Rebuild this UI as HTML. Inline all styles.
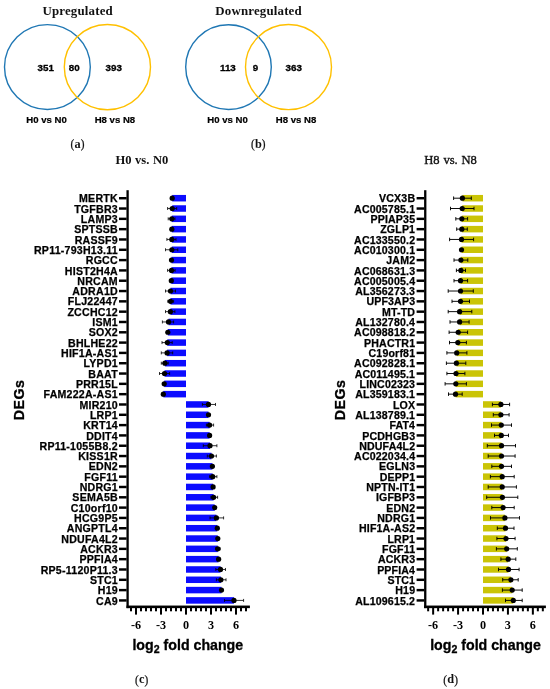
<!DOCTYPE html>
<html lang="en"><head><meta charset="utf-8"><title>Figure</title>
<style>html,body{margin:0;padding:0;background:#fff}body{width:550px;height:689px;overflow:hidden}svg{display:block}</style></head>
<body>
<svg width="550" height="689" viewBox="0 0 550 689">
<style>
text{font-family:"Liberation Sans",sans-serif;fill:#000}
.lab{font-size:10.6px;font-weight:bold;stroke:#000;stroke-width:0.25px}
.tk{font-family:"Liberation Serif",serif;font-size:12.2px;font-weight:bold}
.ttl{font-family:"Liberation Serif",serif;font-size:12.9px;font-weight:bold;fill:#111;letter-spacing:0.17px}
.num{font-size:9.8px;font-weight:bold;stroke:#000;stroke-width:0.3px}
.vl{font-size:9.6px;font-weight:bold;stroke:#000;stroke-width:0.2px}
.cap{font-family:"Liberation Serif",serif;font-size:11.3px;fill:#111}
.sub{font-family:"Liberation Serif",serif;font-size:12.8px;fill:#111}
.ax{font-size:14.2px;font-weight:bold;stroke:#000;stroke-width:0.3px}
</style>
<rect width="550" height="689" fill="#fff"/>
<ellipse cx="47.4" cy="67.1" rx="42.9" ry="42.45" fill="none" stroke="#1f77b4" stroke-width="1.4"/>
<ellipse cx="107.4" cy="67.1" rx="43.1" ry="42.65" fill="none" stroke="#ffc000" stroke-width="1.4"/>
<ellipse cx="228.5" cy="67.1" rx="42.8" ry="42.35" fill="none" stroke="#1f77b4" stroke-width="1.4"/>
<ellipse cx="288.5" cy="67.1" rx="43.0" ry="42.55" fill="none" stroke="#ffc000" stroke-width="1.4"/>
<text x="77.7" y="15.4" text-anchor="middle" class="ttl">Upregulated</text>
<text x="258.6" y="15.4" text-anchor="middle" class="ttl">Downregulated</text>
<text x="45.8" y="71.4" text-anchor="middle" class="num">351</text>
<text x="74.2" y="71.4" text-anchor="middle" class="num">80</text>
<text x="113.7" y="71.4" text-anchor="middle" class="num">393</text>
<text x="227.9" y="71.4" text-anchor="middle" class="num">113</text>
<text x="255.6" y="71.4" text-anchor="middle" class="num">9</text>
<text x="293.7" y="71.4" text-anchor="middle" class="num">363</text>
<text x="46.5" y="123.4" text-anchor="middle" class="vl">H0 vs N0</text>
<text x="114.9" y="123.4" text-anchor="middle" class="vl">H8 vs N8</text>
<text x="227.6" y="123.4" text-anchor="middle" class="vl">H0 vs N0</text>
<text x="296" y="123.4" text-anchor="middle" class="vl">H8 vs N8</text>
<text x="141.9" y="163.9" text-anchor="middle" class="sub" style="font-weight:bold;font-size:12.55px;word-spacing:0.4px">H0 vs. N0</text>
<text x="450.6" y="163.9" text-anchor="middle" class="sub" style="font-size:12.6px;word-spacing:0.6px;stroke:#111;stroke-width:0.35px">H8 vs. N8</text>
<rect x="172.2" y="194.95" width="13.8" height="6.5" fill="#0c0cff"/>
<rect x="172.2" y="205.26" width="13.8" height="6.5" fill="#0c0cff"/>
<rect x="171.8" y="215.58" width="14.2" height="6.5" fill="#0c0cff"/>
<rect x="171.8" y="225.89" width="14.2" height="6.5" fill="#0c0cff"/>
<rect x="171.8" y="236.20" width="14.2" height="6.5" fill="#0c0cff"/>
<rect x="171.8" y="246.51" width="14.2" height="6.5" fill="#0c0cff"/>
<rect x="171.5" y="256.83" width="14.5" height="6.5" fill="#0c0cff"/>
<rect x="171.5" y="267.14" width="14.5" height="6.5" fill="#0c0cff"/>
<rect x="171.3" y="277.45" width="14.7" height="6.5" fill="#0c0cff"/>
<rect x="170.5" y="287.77" width="15.5" height="6.5" fill="#0c0cff"/>
<rect x="170.5" y="298.08" width="15.5" height="6.5" fill="#0c0cff"/>
<rect x="170.4" y="308.39" width="15.6" height="6.5" fill="#0c0cff"/>
<rect x="168.5" y="318.71" width="17.5" height="6.5" fill="#0c0cff"/>
<rect x="167.8" y="329.02" width="18.2" height="6.5" fill="#0c0cff"/>
<rect x="167.3" y="339.33" width="18.7" height="6.5" fill="#0c0cff"/>
<rect x="167.1" y="349.64" width="18.9" height="6.5" fill="#0c0cff"/>
<rect x="164.9" y="359.96" width="21.1" height="6.5" fill="#0c0cff"/>
<rect x="164.5" y="370.27" width="21.5" height="6.5" fill="#0c0cff"/>
<rect x="164.2" y="380.58" width="21.8" height="6.5" fill="#0c0cff"/>
<rect x="163.3" y="390.90" width="22.7" height="6.5" fill="#0c0cff"/>
<rect x="186.0" y="401.21" width="22.5" height="6.5" fill="#0c0cff"/>
<rect x="186.0" y="411.52" width="22.5" height="6.5" fill="#0c0cff"/>
<rect x="186.0" y="421.84" width="23.6" height="6.5" fill="#0c0cff"/>
<rect x="186.0" y="432.15" width="23.6" height="6.5" fill="#0c0cff"/>
<rect x="186.0" y="442.46" width="24.0" height="6.5" fill="#0c0cff"/>
<rect x="186.0" y="452.77" width="25.5" height="6.5" fill="#0c0cff"/>
<rect x="186.0" y="463.09" width="26.4" height="6.5" fill="#0c0cff"/>
<rect x="186.0" y="473.40" width="26.7" height="6.5" fill="#0c0cff"/>
<rect x="186.0" y="483.71" width="27.1" height="6.5" fill="#0c0cff"/>
<rect x="186.0" y="494.03" width="27.6" height="6.5" fill="#0c0cff"/>
<rect x="186.0" y="504.34" width="28.7" height="6.5" fill="#0c0cff"/>
<rect x="186.0" y="514.65" width="30.4" height="6.5" fill="#0c0cff"/>
<rect x="186.0" y="524.97" width="31.3" height="6.5" fill="#0c0cff"/>
<rect x="186.0" y="535.28" width="31.8" height="6.5" fill="#0c0cff"/>
<rect x="186.0" y="545.59" width="31.8" height="6.5" fill="#0c0cff"/>
<rect x="186.0" y="555.90" width="32.6" height="6.5" fill="#0c0cff"/>
<rect x="186.0" y="566.22" width="34.5" height="6.5" fill="#0c0cff"/>
<rect x="186.0" y="576.53" width="34.9" height="6.5" fill="#0c0cff"/>
<rect x="186.0" y="586.84" width="35.5" height="6.5" fill="#0c0cff"/>
<rect x="186.0" y="597.16" width="48.0" height="6.5" fill="#0c0cff"/>
<circle cx="172.2" cy="198.20" r="2.6" fill="#000"/>
<path d="M167.6 208.51H176.7M167.6 207.01v3.0M176.7 207.01v3.0" stroke="#000" stroke-width="0.8" fill="none"/>
<circle cx="172.2" cy="208.51" r="2.6" fill="#000"/>
<path d="M168.2 218.83H175.0M168.2 217.33v3.0M175.0 217.33v3.0" stroke="#000" stroke-width="0.8" fill="none"/>
<circle cx="171.8" cy="218.83" r="2.6" fill="#000"/>
<circle cx="171.8" cy="229.14" r="2.6" fill="#000"/>
<path d="M166.9 239.45H176.0M166.9 237.95v3.0M176.0 237.95v3.0" stroke="#000" stroke-width="0.8" fill="none"/>
<circle cx="171.8" cy="239.45" r="2.6" fill="#000"/>
<path d="M165.5 249.76H177.8M165.5 248.26v3.0M177.8 248.26v3.0" stroke="#000" stroke-width="0.8" fill="none"/>
<circle cx="171.8" cy="249.76" r="2.6" fill="#000"/>
<circle cx="171.5" cy="260.08" r="2.6" fill="#000"/>
<path d="M167.6 270.39H175.1M167.6 268.89v3.0M175.1 268.89v3.0" stroke="#000" stroke-width="0.8" fill="none"/>
<circle cx="171.5" cy="270.39" r="2.6" fill="#000"/>
<circle cx="171.3" cy="280.70" r="2.6" fill="#000"/>
<path d="M165.5 291.02H175.5M165.5 289.52v3.0M175.5 289.52v3.0" stroke="#000" stroke-width="0.8" fill="none"/>
<circle cx="170.5" cy="291.02" r="2.6" fill="#000"/>
<path d="M167.8 301.33H173.6M167.8 299.83v3.0M173.6 299.83v3.0" stroke="#000" stroke-width="0.8" fill="none"/>
<circle cx="170.5" cy="301.33" r="2.6" fill="#000"/>
<path d="M165.5 311.64H174.9M165.5 310.14v3.0M174.9 310.14v3.0" stroke="#000" stroke-width="0.8" fill="none"/>
<circle cx="170.4" cy="311.64" r="2.6" fill="#000"/>
<path d="M162.4 321.96H173.6M162.4 320.46v3.0M173.6 320.46v3.0" stroke="#000" stroke-width="0.8" fill="none"/>
<circle cx="168.5" cy="321.96" r="2.6" fill="#000"/>
<circle cx="167.8" cy="332.27" r="2.6" fill="#000"/>
<path d="M162.0 342.58H172.2M162.0 341.08v3.0M172.2 341.08v3.0" stroke="#000" stroke-width="0.8" fill="none"/>
<circle cx="167.3" cy="342.58" r="2.6" fill="#000"/>
<path d="M161.3 352.89H172.7M161.3 351.39v3.0M172.7 351.39v3.0" stroke="#000" stroke-width="0.8" fill="none"/>
<circle cx="167.1" cy="352.89" r="2.6" fill="#000"/>
<path d="M161.3 363.21H168.2M161.3 361.71v3.0M168.2 361.71v3.0" stroke="#000" stroke-width="0.8" fill="none"/>
<circle cx="164.9" cy="363.21" r="2.6" fill="#000"/>
<path d="M159.5 373.52H169.6M159.5 372.02v3.0M169.6 372.02v3.0" stroke="#000" stroke-width="0.8" fill="none"/>
<circle cx="164.5" cy="373.52" r="2.6" fill="#000"/>
<circle cx="164.2" cy="383.83" r="2.6" fill="#000"/>
<circle cx="163.3" cy="394.15" r="2.6" fill="#000"/>
<path d="M202.4 404.46H215.5M202.4 402.96v3.0M215.5 402.96v3.0" stroke="#000" stroke-width="0.8" fill="none"/>
<circle cx="208.5" cy="404.46" r="2.6" fill="#000"/>
<circle cx="208.5" cy="414.77" r="2.6" fill="#000"/>
<path d="M206.4 425.09H213.6M206.4 423.59v3.0M213.6 423.59v3.0" stroke="#000" stroke-width="0.8" fill="none"/>
<circle cx="209.6" cy="425.09" r="2.6" fill="#000"/>
<circle cx="209.6" cy="435.40" r="2.6" fill="#000"/>
<path d="M203.3 445.71H216.9M203.3 444.21v3.0M216.9 444.21v3.0" stroke="#000" stroke-width="0.8" fill="none"/>
<circle cx="210.0" cy="445.71" r="2.6" fill="#000"/>
<path d="M207.3 456.02H216.4M207.3 454.52v3.0M216.4 454.52v3.0" stroke="#000" stroke-width="0.8" fill="none"/>
<circle cx="211.5" cy="456.02" r="2.6" fill="#000"/>
<circle cx="212.4" cy="466.34" r="2.6" fill="#000"/>
<path d="M209.6 476.65H216.9M209.6 475.15v3.0M216.9 475.15v3.0" stroke="#000" stroke-width="0.8" fill="none"/>
<circle cx="212.7" cy="476.65" r="2.6" fill="#000"/>
<circle cx="213.1" cy="486.96" r="2.6" fill="#000"/>
<path d="M210.9 497.28H217.6M210.9 495.78v3.0M217.6 495.78v3.0" stroke="#000" stroke-width="0.8" fill="none"/>
<circle cx="213.6" cy="497.28" r="2.6" fill="#000"/>
<circle cx="214.7" cy="507.59" r="2.6" fill="#000"/>
<path d="M210.0 517.90H223.6M210.0 516.40v3.0M223.6 516.40v3.0" stroke="#000" stroke-width="0.8" fill="none"/>
<circle cx="216.4" cy="517.90" r="2.6" fill="#000"/>
<circle cx="217.3" cy="528.22" r="2.6" fill="#000"/>
<circle cx="217.8" cy="538.53" r="2.6" fill="#000"/>
<path d="M215.6 548.84H220.2M215.6 547.34v3.0M220.2 547.34v3.0" stroke="#000" stroke-width="0.8" fill="none"/>
<circle cx="217.8" cy="548.84" r="2.6" fill="#000"/>
<circle cx="218.6" cy="559.15" r="2.6" fill="#000"/>
<path d="M215.8 569.47H225.5M215.8 567.97v3.0M225.5 567.97v3.0" stroke="#000" stroke-width="0.8" fill="none"/>
<circle cx="220.5" cy="569.47" r="2.6" fill="#000"/>
<path d="M216.4 579.78H226.0M216.4 578.28v3.0M226.0 578.28v3.0" stroke="#000" stroke-width="0.8" fill="none"/>
<circle cx="220.9" cy="579.78" r="2.6" fill="#000"/>
<circle cx="221.5" cy="590.09" r="2.6" fill="#000"/>
<path d="M224.5 600.41H243.6M224.5 598.91v3.0M243.6 598.91v3.0" stroke="#000" stroke-width="0.8" fill="none"/>
<circle cx="234.0" cy="600.41" r="2.6" fill="#000"/>
<rect x="126.45" y="190.2" width="2.3" height="417.9" fill="#000"/>
<rect x="126.5" y="605.55" width="123.4" height="2.6" fill="#000"/>
<rect x="119.0" y="197.00" width="7.6" height="2.45" fill="#000"/>
<text x="117.9" y="202.35" text-anchor="end" class="lab" letter-spacing="0.23">MERTK</text>
<rect x="119.0" y="207.31" width="7.6" height="2.45" fill="#000"/>
<text x="117.9" y="212.66" text-anchor="end" class="lab" letter-spacing="0.23">TGFBR3</text>
<rect x="119.0" y="217.63" width="7.6" height="2.45" fill="#000"/>
<text x="117.9" y="222.98" text-anchor="end" class="lab" letter-spacing="0.23">LAMP3</text>
<rect x="119.0" y="227.94" width="7.6" height="2.45" fill="#000"/>
<text x="117.9" y="233.29" text-anchor="end" class="lab" letter-spacing="0.23">SPTSSB</text>
<rect x="119.0" y="238.25" width="7.6" height="2.45" fill="#000"/>
<text x="117.9" y="243.60" text-anchor="end" class="lab" letter-spacing="0.23">RASSF9</text>
<rect x="119.0" y="248.56" width="7.6" height="2.45" fill="#000"/>
<text x="117.9" y="253.91" text-anchor="end" class="lab" letter-spacing="0.23">RP11-793H13.11</text>
<rect x="119.0" y="258.88" width="7.6" height="2.45" fill="#000"/>
<text x="117.9" y="264.23" text-anchor="end" class="lab" letter-spacing="0.23">RGCC</text>
<rect x="119.0" y="269.19" width="7.6" height="2.45" fill="#000"/>
<text x="117.9" y="274.54" text-anchor="end" class="lab" letter-spacing="0.23">HIST2H4A</text>
<rect x="119.0" y="279.50" width="7.6" height="2.45" fill="#000"/>
<text x="117.9" y="284.85" text-anchor="end" class="lab" letter-spacing="0.23">NRCAM</text>
<rect x="119.0" y="289.82" width="7.6" height="2.45" fill="#000"/>
<text x="117.9" y="295.17" text-anchor="end" class="lab" letter-spacing="0.23">ADRA1D</text>
<rect x="119.0" y="300.13" width="7.6" height="2.45" fill="#000"/>
<text x="117.9" y="305.48" text-anchor="end" class="lab" letter-spacing="0.23">FLJ22447</text>
<rect x="119.0" y="310.44" width="7.6" height="2.45" fill="#000"/>
<text x="117.9" y="315.79" text-anchor="end" class="lab" letter-spacing="0.23">ZCCHC12</text>
<rect x="119.0" y="320.76" width="7.6" height="2.45" fill="#000"/>
<text x="117.9" y="326.11" text-anchor="end" class="lab" letter-spacing="0.23">ISM1</text>
<rect x="119.0" y="331.07" width="7.6" height="2.45" fill="#000"/>
<text x="117.9" y="336.42" text-anchor="end" class="lab" letter-spacing="0.23">SOX2</text>
<rect x="119.0" y="341.38" width="7.6" height="2.45" fill="#000"/>
<text x="117.9" y="346.73" text-anchor="end" class="lab" letter-spacing="0.23">BHLHE22</text>
<rect x="119.0" y="351.69" width="7.6" height="2.45" fill="#000"/>
<text x="117.9" y="357.04" text-anchor="end" class="lab" letter-spacing="0.23">HIF1A-AS1</text>
<rect x="119.0" y="362.01" width="7.6" height="2.45" fill="#000"/>
<text x="117.9" y="367.36" text-anchor="end" class="lab" letter-spacing="0.23">LYPD1</text>
<rect x="119.0" y="372.32" width="7.6" height="2.45" fill="#000"/>
<text x="117.9" y="377.67" text-anchor="end" class="lab" letter-spacing="0.23">BAAT</text>
<rect x="119.0" y="382.63" width="7.6" height="2.45" fill="#000"/>
<text x="117.9" y="387.98" text-anchor="end" class="lab" letter-spacing="0.23">PRR15L</text>
<rect x="119.0" y="392.95" width="7.6" height="2.45" fill="#000"/>
<text x="117.9" y="398.30" text-anchor="end" class="lab" letter-spacing="0.23">FAM222A-AS1</text>
<rect x="119.0" y="403.26" width="7.6" height="2.45" fill="#000"/>
<text x="117.9" y="408.61" text-anchor="end" class="lab" letter-spacing="0.23">MIR210</text>
<rect x="119.0" y="413.57" width="7.6" height="2.45" fill="#000"/>
<text x="117.9" y="418.92" text-anchor="end" class="lab" letter-spacing="0.23">LRP1</text>
<rect x="119.0" y="423.89" width="7.6" height="2.45" fill="#000"/>
<text x="117.9" y="429.24" text-anchor="end" class="lab" letter-spacing="0.23">KRT14</text>
<rect x="119.0" y="434.20" width="7.6" height="2.45" fill="#000"/>
<text x="117.9" y="439.55" text-anchor="end" class="lab" letter-spacing="0.23">DDIT4</text>
<rect x="119.0" y="444.51" width="7.6" height="2.45" fill="#000"/>
<text x="117.9" y="449.86" text-anchor="end" class="lab" letter-spacing="0.23">RP11-1055B8.2</text>
<rect x="119.0" y="454.82" width="7.6" height="2.45" fill="#000"/>
<text x="117.9" y="460.17" text-anchor="end" class="lab" letter-spacing="0.23">KISS1R</text>
<rect x="119.0" y="465.14" width="7.6" height="2.45" fill="#000"/>
<text x="117.9" y="470.49" text-anchor="end" class="lab" letter-spacing="0.23">EDN2</text>
<rect x="119.0" y="475.45" width="7.6" height="2.45" fill="#000"/>
<text x="117.9" y="480.80" text-anchor="end" class="lab" letter-spacing="0.23">FGF11</text>
<rect x="119.0" y="485.76" width="7.6" height="2.45" fill="#000"/>
<text x="117.9" y="491.11" text-anchor="end" class="lab" letter-spacing="0.23">NDRG1</text>
<rect x="119.0" y="496.08" width="7.6" height="2.45" fill="#000"/>
<text x="117.9" y="501.43" text-anchor="end" class="lab" letter-spacing="0.23">SEMA5B</text>
<rect x="119.0" y="506.39" width="7.6" height="2.45" fill="#000"/>
<text x="117.9" y="511.74" text-anchor="end" class="lab" letter-spacing="0.23">C10orf10</text>
<rect x="119.0" y="516.70" width="7.6" height="2.45" fill="#000"/>
<text x="117.9" y="522.05" text-anchor="end" class="lab" letter-spacing="0.23">HCG9P5</text>
<rect x="119.0" y="527.02" width="7.6" height="2.45" fill="#000"/>
<text x="117.9" y="532.37" text-anchor="end" class="lab" letter-spacing="0.23">ANGPTL4</text>
<rect x="119.0" y="537.33" width="7.6" height="2.45" fill="#000"/>
<text x="117.9" y="542.68" text-anchor="end" class="lab" letter-spacing="0.23">NDUFA4L2</text>
<rect x="119.0" y="547.64" width="7.6" height="2.45" fill="#000"/>
<text x="117.9" y="552.99" text-anchor="end" class="lab" letter-spacing="0.23">ACKR3</text>
<rect x="119.0" y="557.95" width="7.6" height="2.45" fill="#000"/>
<text x="117.9" y="563.30" text-anchor="end" class="lab" letter-spacing="0.23">PPFIA4</text>
<rect x="119.0" y="568.27" width="7.6" height="2.45" fill="#000"/>
<text x="117.9" y="573.62" text-anchor="end" class="lab" letter-spacing="0.23">RP5-1120P11.3</text>
<rect x="119.0" y="578.58" width="7.6" height="2.45" fill="#000"/>
<text x="117.9" y="583.93" text-anchor="end" class="lab" letter-spacing="0.23">STC1</text>
<rect x="119.0" y="588.89" width="7.6" height="2.45" fill="#000"/>
<text x="117.9" y="594.24" text-anchor="end" class="lab" letter-spacing="0.23">H19</text>
<rect x="119.0" y="599.21" width="7.6" height="2.45" fill="#000"/>
<text x="117.9" y="604.56" text-anchor="end" class="lab" letter-spacing="0.23">CA9</text>
<rect x="130.00" y="607" width="2.0" height="4.300000000000001" fill="#000"/>
<rect x="135.00" y="607" width="2.0" height="7.6" fill="#000"/>
<text x="136.0" y="628.6" text-anchor="middle" class="tk">-6</text>
<rect x="140.00" y="607" width="2.0" height="4.300000000000001" fill="#000"/>
<rect x="145.00" y="607" width="2.0" height="4.300000000000001" fill="#000"/>
<rect x="150.00" y="607" width="2.0" height="4.300000000000001" fill="#000"/>
<rect x="155.00" y="607" width="2.0" height="4.300000000000001" fill="#000"/>
<rect x="160.00" y="607" width="2.0" height="7.6" fill="#000"/>
<text x="161.0" y="628.6" text-anchor="middle" class="tk">-3</text>
<rect x="165.00" y="607" width="2.0" height="4.300000000000001" fill="#000"/>
<rect x="170.00" y="607" width="2.0" height="4.300000000000001" fill="#000"/>
<rect x="175.00" y="607" width="2.0" height="4.300000000000001" fill="#000"/>
<rect x="180.00" y="607" width="2.0" height="4.300000000000001" fill="#000"/>
<rect x="185.00" y="607" width="2.0" height="7.6" fill="#000"/>
<text x="186.0" y="628.6" text-anchor="middle" class="tk">0</text>
<rect x="190.00" y="607" width="2.0" height="4.300000000000001" fill="#000"/>
<rect x="195.00" y="607" width="2.0" height="4.300000000000001" fill="#000"/>
<rect x="200.00" y="607" width="2.0" height="4.300000000000001" fill="#000"/>
<rect x="205.00" y="607" width="2.0" height="4.300000000000001" fill="#000"/>
<rect x="210.00" y="607" width="2.0" height="7.6" fill="#000"/>
<text x="211.0" y="628.6" text-anchor="middle" class="tk">3</text>
<rect x="215.00" y="607" width="2.0" height="4.300000000000001" fill="#000"/>
<rect x="220.00" y="607" width="2.0" height="4.300000000000001" fill="#000"/>
<rect x="225.00" y="607" width="2.0" height="4.300000000000001" fill="#000"/>
<rect x="230.00" y="607" width="2.0" height="4.300000000000001" fill="#000"/>
<rect x="235.00" y="607" width="2.0" height="7.6" fill="#000"/>
<text x="236.0" y="628.6" text-anchor="middle" class="tk">6</text>
<rect x="240.00" y="607" width="2.0" height="4.300000000000001" fill="#000"/>
<rect x="245.00" y="607" width="2.0" height="4.300000000000001" fill="#000"/>
<rect x="462.4" y="194.95" width="20.6" height="6.5" fill="#cac406"/>
<rect x="462.2" y="205.26" width="20.8" height="6.5" fill="#cac406"/>
<rect x="461.8" y="215.58" width="21.2" height="6.5" fill="#cac406"/>
<rect x="461.8" y="225.89" width="21.2" height="6.5" fill="#cac406"/>
<rect x="461.5" y="236.20" width="21.5" height="6.5" fill="#cac406"/>
<rect x="461.5" y="246.51" width="21.5" height="6.5" fill="#cac406"/>
<rect x="460.9" y="256.83" width="22.1" height="6.5" fill="#cac406"/>
<rect x="460.9" y="267.14" width="22.1" height="6.5" fill="#cac406"/>
<rect x="460.5" y="277.45" width="22.5" height="6.5" fill="#cac406"/>
<rect x="460.5" y="287.77" width="22.5" height="6.5" fill="#cac406"/>
<rect x="460.5" y="298.08" width="22.5" height="6.5" fill="#cac406"/>
<rect x="459.6" y="308.39" width="23.4" height="6.5" fill="#cac406"/>
<rect x="459.6" y="318.71" width="23.4" height="6.5" fill="#cac406"/>
<rect x="458.2" y="329.02" width="24.8" height="6.5" fill="#cac406"/>
<rect x="457.8" y="339.33" width="25.2" height="6.5" fill="#cac406"/>
<rect x="456.7" y="349.64" width="26.3" height="6.5" fill="#cac406"/>
<rect x="456.4" y="359.96" width="26.6" height="6.5" fill="#cac406"/>
<rect x="456.0" y="370.27" width="27.0" height="6.5" fill="#cac406"/>
<rect x="455.8" y="380.58" width="27.2" height="6.5" fill="#cac406"/>
<rect x="455.5" y="390.90" width="27.5" height="6.5" fill="#cac406"/>
<rect x="483.0" y="401.21" width="17.9" height="6.5" fill="#cac406"/>
<rect x="483.0" y="411.52" width="17.9" height="6.5" fill="#cac406"/>
<rect x="483.0" y="421.84" width="18.3" height="6.5" fill="#cac406"/>
<rect x="483.0" y="432.15" width="18.3" height="6.5" fill="#cac406"/>
<rect x="483.0" y="442.46" width="18.5" height="6.5" fill="#cac406"/>
<rect x="483.0" y="452.77" width="18.5" height="6.5" fill="#cac406"/>
<rect x="483.0" y="463.09" width="18.5" height="6.5" fill="#cac406"/>
<rect x="483.0" y="473.40" width="19.2" height="6.5" fill="#cac406"/>
<rect x="483.0" y="483.71" width="19.2" height="6.5" fill="#cac406"/>
<rect x="483.0" y="494.03" width="19.4" height="6.5" fill="#cac406"/>
<rect x="483.0" y="504.34" width="20.1" height="6.5" fill="#cac406"/>
<rect x="483.0" y="514.65" width="21.9" height="6.5" fill="#cac406"/>
<rect x="483.0" y="524.97" width="22.5" height="6.5" fill="#cac406"/>
<rect x="483.0" y="535.28" width="23.0" height="6.5" fill="#cac406"/>
<rect x="483.0" y="545.59" width="23.7" height="6.5" fill="#cac406"/>
<rect x="483.0" y="555.90" width="25.2" height="6.5" fill="#cac406"/>
<rect x="483.0" y="566.22" width="25.5" height="6.5" fill="#cac406"/>
<rect x="483.0" y="576.53" width="27.9" height="6.5" fill="#cac406"/>
<rect x="483.0" y="586.84" width="29.2" height="6.5" fill="#cac406"/>
<rect x="483.0" y="597.16" width="30.3" height="6.5" fill="#cac406"/>
<path d="M453.6 198.20H471.3M453.6 196.45v3.5M471.3 196.45v3.5" stroke="#000" stroke-width="0.95" fill="none"/>
<circle cx="462.4" cy="198.20" r="2.6" fill="#000"/>
<path d="M450.5 208.51H474.0M450.5 206.76v3.5M474.0 206.76v3.5" stroke="#000" stroke-width="0.95" fill="none"/>
<circle cx="462.2" cy="208.51" r="2.6" fill="#000"/>
<path d="M455.8 218.83H467.6M455.8 217.08v3.5M467.6 217.08v3.5" stroke="#000" stroke-width="0.95" fill="none"/>
<circle cx="461.8" cy="218.83" r="2.6" fill="#000"/>
<path d="M456.7 229.14H467.3M456.7 227.39v3.5M467.3 227.39v3.5" stroke="#000" stroke-width="0.95" fill="none"/>
<circle cx="461.8" cy="229.14" r="2.6" fill="#000"/>
<path d="M449.6 239.45H473.6M449.6 237.70v3.5M473.6 237.70v3.5" stroke="#000" stroke-width="0.95" fill="none"/>
<circle cx="461.5" cy="239.45" r="2.6" fill="#000"/>
<circle cx="461.5" cy="249.76" r="2.6" fill="#000"/>
<path d="M454.0 260.08H467.8M454.0 258.33v3.5M467.8 258.33v3.5" stroke="#000" stroke-width="0.95" fill="none"/>
<circle cx="460.9" cy="260.08" r="2.6" fill="#000"/>
<path d="M456.4 270.39H465.5M456.4 268.64v3.5M465.5 268.64v3.5" stroke="#000" stroke-width="0.95" fill="none"/>
<circle cx="460.9" cy="270.39" r="2.6" fill="#000"/>
<path d="M454.0 280.70H467.6M454.0 278.95v3.5M467.6 278.95v3.5" stroke="#000" stroke-width="0.95" fill="none"/>
<circle cx="460.5" cy="280.70" r="2.6" fill="#000"/>
<path d="M448.2 291.02H473.3M448.2 289.27v3.5M473.3 289.27v3.5" stroke="#000" stroke-width="0.95" fill="none"/>
<circle cx="460.5" cy="291.02" r="2.6" fill="#000"/>
<path d="M452.0 301.33H469.5M452.0 299.58v3.5M469.5 299.58v3.5" stroke="#000" stroke-width="0.95" fill="none"/>
<circle cx="460.5" cy="301.33" r="2.6" fill="#000"/>
<path d="M448.2 311.64H471.8M448.2 309.89v3.5M471.8 309.89v3.5" stroke="#000" stroke-width="0.95" fill="none"/>
<circle cx="459.6" cy="311.64" r="2.6" fill="#000"/>
<path d="M450.0 321.96H469.1M450.0 320.21v3.5M469.1 320.21v3.5" stroke="#000" stroke-width="0.95" fill="none"/>
<circle cx="459.6" cy="321.96" r="2.6" fill="#000"/>
<path d="M449.1 332.27H467.6M449.1 330.52v3.5M467.6 330.52v3.5" stroke="#000" stroke-width="0.95" fill="none"/>
<circle cx="458.2" cy="332.27" r="2.6" fill="#000"/>
<path d="M449.5 342.58H466.4M449.5 340.83v3.5M466.4 340.83v3.5" stroke="#000" stroke-width="0.95" fill="none"/>
<circle cx="457.8" cy="342.58" r="2.6" fill="#000"/>
<path d="M446.9 352.89H466.9M446.9 351.14v3.5M466.9 351.14v3.5" stroke="#000" stroke-width="0.95" fill="none"/>
<circle cx="456.7" cy="352.89" r="2.6" fill="#000"/>
<path d="M446.4 363.21H465.8M446.4 361.46v3.5M465.8 361.46v3.5" stroke="#000" stroke-width="0.95" fill="none"/>
<circle cx="456.4" cy="363.21" r="2.6" fill="#000"/>
<path d="M446.9 373.52H464.9M446.9 371.77v3.5M464.9 371.77v3.5" stroke="#000" stroke-width="0.95" fill="none"/>
<circle cx="456.0" cy="373.52" r="2.6" fill="#000"/>
<path d="M445.1 383.83H466.4M445.1 382.08v3.5M466.4 382.08v3.5" stroke="#000" stroke-width="0.95" fill="none"/>
<circle cx="455.8" cy="383.83" r="2.6" fill="#000"/>
<path d="M448.5 394.15H462.2M448.5 392.40v3.5M462.2 392.40v3.5" stroke="#000" stroke-width="0.95" fill="none"/>
<circle cx="455.5" cy="394.15" r="2.6" fill="#000"/>
<path d="M492.4 404.46H509.6M492.4 402.71v3.5M509.6 402.71v3.5" stroke="#000" stroke-width="0.95" fill="none"/>
<circle cx="500.9" cy="404.46" r="2.6" fill="#000"/>
<path d="M493.3 414.77H509.1M493.3 413.02v3.5M509.1 413.02v3.5" stroke="#000" stroke-width="0.95" fill="none"/>
<circle cx="500.9" cy="414.77" r="2.6" fill="#000"/>
<path d="M491.5 425.09H511.5M491.5 423.34v3.5M511.5 423.34v3.5" stroke="#000" stroke-width="0.95" fill="none"/>
<circle cx="501.3" cy="425.09" r="2.6" fill="#000"/>
<path d="M494.5 435.40H508.5M494.5 433.65v3.5M508.5 433.65v3.5" stroke="#000" stroke-width="0.95" fill="none"/>
<circle cx="501.3" cy="435.40" r="2.6" fill="#000"/>
<path d="M487.3 445.71H515.5M487.3 443.96v3.5M515.5 443.96v3.5" stroke="#000" stroke-width="0.95" fill="none"/>
<circle cx="501.5" cy="445.71" r="2.6" fill="#000"/>
<path d="M488.2 456.02H515.1M488.2 454.27v3.5M515.1 454.27v3.5" stroke="#000" stroke-width="0.95" fill="none"/>
<circle cx="501.5" cy="456.02" r="2.6" fill="#000"/>
<path d="M491.8 466.34H511.5M491.8 464.59v3.5M511.5 464.59v3.5" stroke="#000" stroke-width="0.95" fill="none"/>
<circle cx="501.5" cy="466.34" r="2.6" fill="#000"/>
<path d="M490.4 476.65H514.2M490.4 474.90v3.5M514.2 474.90v3.5" stroke="#000" stroke-width="0.95" fill="none"/>
<circle cx="502.2" cy="476.65" r="2.6" fill="#000"/>
<path d="M488.2 486.96H516.4M488.2 485.21v3.5M516.4 485.21v3.5" stroke="#000" stroke-width="0.95" fill="none"/>
<circle cx="502.2" cy="486.96" r="2.6" fill="#000"/>
<path d="M486.7 497.28H517.8M486.7 495.53v3.5M517.8 495.53v3.5" stroke="#000" stroke-width="0.95" fill="none"/>
<circle cx="502.4" cy="497.28" r="2.6" fill="#000"/>
<path d="M491.8 507.59H514.2M491.8 505.84v3.5M514.2 505.84v3.5" stroke="#000" stroke-width="0.95" fill="none"/>
<circle cx="503.1" cy="507.59" r="2.6" fill="#000"/>
<path d="M490.5 517.90H519.5M490.5 516.15v3.5M519.5 516.15v3.5" stroke="#000" stroke-width="0.95" fill="none"/>
<circle cx="504.9" cy="517.90" r="2.6" fill="#000"/>
<path d="M497.3 528.22H514.0M497.3 526.47v3.5M514.0 526.47v3.5" stroke="#000" stroke-width="0.95" fill="none"/>
<circle cx="505.5" cy="528.22" r="2.6" fill="#000"/>
<path d="M496.9 538.53H515.1M496.9 536.78v3.5M515.1 536.78v3.5" stroke="#000" stroke-width="0.95" fill="none"/>
<circle cx="506.0" cy="538.53" r="2.6" fill="#000"/>
<path d="M496.4 548.84H517.3M496.4 547.09v3.5M517.3 547.09v3.5" stroke="#000" stroke-width="0.95" fill="none"/>
<circle cx="506.7" cy="548.84" r="2.6" fill="#000"/>
<path d="M500.9 559.15H515.8M500.9 557.40v3.5M515.8 557.40v3.5" stroke="#000" stroke-width="0.95" fill="none"/>
<circle cx="508.2" cy="559.15" r="2.6" fill="#000"/>
<path d="M498.5 569.47H519.1M498.5 567.72v3.5M519.1 567.72v3.5" stroke="#000" stroke-width="0.95" fill="none"/>
<circle cx="508.5" cy="569.47" r="2.6" fill="#000"/>
<path d="M502.7 579.78H518.2M502.7 578.03v3.5M518.2 578.03v3.5" stroke="#000" stroke-width="0.95" fill="none"/>
<circle cx="510.9" cy="579.78" r="2.6" fill="#000"/>
<path d="M502.4 590.09H522.2M502.4 588.34v3.5M522.2 588.34v3.5" stroke="#000" stroke-width="0.95" fill="none"/>
<circle cx="512.2" cy="590.09" r="2.6" fill="#000"/>
<path d="M505.5 600.41H522.2M505.5 598.66v3.5M522.2 598.66v3.5" stroke="#000" stroke-width="0.95" fill="none"/>
<circle cx="513.3" cy="600.41" r="2.6" fill="#000"/>
<rect x="424.10" y="190.2" width="2.3" height="417.9" fill="#000"/>
<rect x="424.1" y="605.55" width="121.8" height="2.6" fill="#000"/>
<rect x="416.6" y="197.00" width="7.6" height="2.45" fill="#000"/>
<text x="415.2" y="202.35" text-anchor="end" class="lab" letter-spacing="0.16">VCX3B</text>
<rect x="416.6" y="207.31" width="7.6" height="2.45" fill="#000"/>
<text x="415.2" y="212.66" text-anchor="end" class="lab" letter-spacing="0.16">AC005785.1</text>
<rect x="416.6" y="217.63" width="7.6" height="2.45" fill="#000"/>
<text x="415.2" y="222.98" text-anchor="end" class="lab" letter-spacing="0.16">PPIAP35</text>
<rect x="416.6" y="227.94" width="7.6" height="2.45" fill="#000"/>
<text x="415.2" y="233.29" text-anchor="end" class="lab" letter-spacing="0.16">ZGLP1</text>
<rect x="416.6" y="238.25" width="7.6" height="2.45" fill="#000"/>
<text x="415.2" y="243.60" text-anchor="end" class="lab" letter-spacing="0.16">AC133550.2</text>
<rect x="416.6" y="248.56" width="7.6" height="2.45" fill="#000"/>
<text x="415.2" y="253.91" text-anchor="end" class="lab" letter-spacing="0.16">AC010300.1</text>
<rect x="416.6" y="258.88" width="7.6" height="2.45" fill="#000"/>
<text x="415.2" y="264.23" text-anchor="end" class="lab" letter-spacing="0.16">JAM2</text>
<rect x="416.6" y="269.19" width="7.6" height="2.45" fill="#000"/>
<text x="415.2" y="274.54" text-anchor="end" class="lab" letter-spacing="0.16">AC068631.3</text>
<rect x="416.6" y="279.50" width="7.6" height="2.45" fill="#000"/>
<text x="415.2" y="284.85" text-anchor="end" class="lab" letter-spacing="0.16">AC005005.4</text>
<rect x="416.6" y="289.82" width="7.6" height="2.45" fill="#000"/>
<text x="415.2" y="295.17" text-anchor="end" class="lab" letter-spacing="0.16">AL356273.3</text>
<rect x="416.6" y="300.13" width="7.6" height="2.45" fill="#000"/>
<text x="415.2" y="305.48" text-anchor="end" class="lab" letter-spacing="0.16">UPF3AP3</text>
<rect x="416.6" y="310.44" width="7.6" height="2.45" fill="#000"/>
<text x="415.2" y="315.79" text-anchor="end" class="lab" letter-spacing="0.16">MT-TD</text>
<rect x="416.6" y="320.76" width="7.6" height="2.45" fill="#000"/>
<text x="415.2" y="326.11" text-anchor="end" class="lab" letter-spacing="0.16">AL132780.4</text>
<rect x="416.6" y="331.07" width="7.6" height="2.45" fill="#000"/>
<text x="415.2" y="336.42" text-anchor="end" class="lab" letter-spacing="0.16">AC098818.2</text>
<rect x="416.6" y="341.38" width="7.6" height="2.45" fill="#000"/>
<text x="415.2" y="346.73" text-anchor="end" class="lab" letter-spacing="0.16">PHACTR1</text>
<rect x="416.6" y="351.69" width="7.6" height="2.45" fill="#000"/>
<text x="415.2" y="357.04" text-anchor="end" class="lab" letter-spacing="0.16">C19orf81</text>
<rect x="416.6" y="362.01" width="7.6" height="2.45" fill="#000"/>
<text x="415.2" y="367.36" text-anchor="end" class="lab" letter-spacing="0.16">AC092828.1</text>
<rect x="416.6" y="372.32" width="7.6" height="2.45" fill="#000"/>
<text x="415.2" y="377.67" text-anchor="end" class="lab" letter-spacing="0.16">AC011495.1</text>
<rect x="416.6" y="382.63" width="7.6" height="2.45" fill="#000"/>
<text x="415.2" y="387.98" text-anchor="end" class="lab" letter-spacing="0.16">LINC02323</text>
<rect x="416.6" y="392.95" width="7.6" height="2.45" fill="#000"/>
<text x="415.2" y="398.30" text-anchor="end" class="lab" letter-spacing="0.16">AL359183.1</text>
<rect x="416.6" y="403.26" width="7.6" height="2.45" fill="#000"/>
<text x="415.2" y="408.61" text-anchor="end" class="lab" letter-spacing="0.16">LOX</text>
<rect x="416.6" y="413.57" width="7.6" height="2.45" fill="#000"/>
<text x="415.2" y="418.92" text-anchor="end" class="lab" letter-spacing="0.16">AL138789.1</text>
<rect x="416.6" y="423.89" width="7.6" height="2.45" fill="#000"/>
<text x="415.2" y="429.24" text-anchor="end" class="lab" letter-spacing="0.16">FAT4</text>
<rect x="416.6" y="434.20" width="7.6" height="2.45" fill="#000"/>
<text x="415.2" y="439.55" text-anchor="end" class="lab" letter-spacing="0.16">PCDHGB3</text>
<rect x="416.6" y="444.51" width="7.6" height="2.45" fill="#000"/>
<text x="415.2" y="449.86" text-anchor="end" class="lab" letter-spacing="0.16">NDUFA4L2</text>
<rect x="416.6" y="454.82" width="7.6" height="2.45" fill="#000"/>
<text x="415.2" y="460.17" text-anchor="end" class="lab" letter-spacing="0.16">AC022034.4</text>
<rect x="416.6" y="465.14" width="7.6" height="2.45" fill="#000"/>
<text x="415.2" y="470.49" text-anchor="end" class="lab" letter-spacing="0.16">EGLN3</text>
<rect x="416.6" y="475.45" width="7.6" height="2.45" fill="#000"/>
<text x="415.2" y="480.80" text-anchor="end" class="lab" letter-spacing="0.16">DEPP1</text>
<rect x="416.6" y="485.76" width="7.6" height="2.45" fill="#000"/>
<text x="415.2" y="491.11" text-anchor="end" class="lab" letter-spacing="0.16">NPTN-IT1</text>
<rect x="416.6" y="496.08" width="7.6" height="2.45" fill="#000"/>
<text x="415.2" y="501.43" text-anchor="end" class="lab" letter-spacing="0.16">IGFBP3</text>
<rect x="416.6" y="506.39" width="7.6" height="2.45" fill="#000"/>
<text x="415.2" y="511.74" text-anchor="end" class="lab" letter-spacing="0.16">EDN2</text>
<rect x="416.6" y="516.70" width="7.6" height="2.45" fill="#000"/>
<text x="415.2" y="522.05" text-anchor="end" class="lab" letter-spacing="0.16">NDRG1</text>
<rect x="416.6" y="527.02" width="7.6" height="2.45" fill="#000"/>
<text x="415.2" y="532.37" text-anchor="end" class="lab" letter-spacing="0.16">HIF1A-AS2</text>
<rect x="416.6" y="537.33" width="7.6" height="2.45" fill="#000"/>
<text x="415.2" y="542.68" text-anchor="end" class="lab" letter-spacing="0.16">LRP1</text>
<rect x="416.6" y="547.64" width="7.6" height="2.45" fill="#000"/>
<text x="415.2" y="552.99" text-anchor="end" class="lab" letter-spacing="0.16">FGF11</text>
<rect x="416.6" y="557.95" width="7.6" height="2.45" fill="#000"/>
<text x="415.2" y="563.30" text-anchor="end" class="lab" letter-spacing="0.16">ACKR3</text>
<rect x="416.6" y="568.27" width="7.6" height="2.45" fill="#000"/>
<text x="415.2" y="573.62" text-anchor="end" class="lab" letter-spacing="0.16">PPFIA4</text>
<rect x="416.6" y="578.58" width="7.6" height="2.45" fill="#000"/>
<text x="415.2" y="583.93" text-anchor="end" class="lab" letter-spacing="0.16">STC1</text>
<rect x="416.6" y="588.89" width="7.6" height="2.45" fill="#000"/>
<text x="415.2" y="594.24" text-anchor="end" class="lab" letter-spacing="0.16">H19</text>
<rect x="416.6" y="599.21" width="7.6" height="2.45" fill="#000"/>
<text x="415.2" y="604.56" text-anchor="end" class="lab" letter-spacing="0.16">AL109615.2</text>
<rect x="427.15" y="607" width="2.0" height="4.300000000000001" fill="#000"/>
<rect x="432.14" y="607" width="2.0" height="7.6" fill="#000"/>
<text x="433.1" y="628.6" text-anchor="middle" class="tk">-6</text>
<rect x="437.13" y="607" width="2.0" height="4.300000000000001" fill="#000"/>
<rect x="442.11" y="607" width="2.0" height="4.300000000000001" fill="#000"/>
<rect x="447.10" y="607" width="2.0" height="4.300000000000001" fill="#000"/>
<rect x="452.08" y="607" width="2.0" height="4.300000000000001" fill="#000"/>
<rect x="457.07" y="607" width="2.0" height="7.6" fill="#000"/>
<text x="458.1" y="628.6" text-anchor="middle" class="tk">-3</text>
<rect x="462.06" y="607" width="2.0" height="4.300000000000001" fill="#000"/>
<rect x="467.04" y="607" width="2.0" height="4.300000000000001" fill="#000"/>
<rect x="472.03" y="607" width="2.0" height="4.300000000000001" fill="#000"/>
<rect x="477.01" y="607" width="2.0" height="4.300000000000001" fill="#000"/>
<rect x="482.00" y="607" width="2.0" height="7.6" fill="#000"/>
<text x="483.0" y="628.6" text-anchor="middle" class="tk">0</text>
<rect x="486.99" y="607" width="2.0" height="4.300000000000001" fill="#000"/>
<rect x="491.97" y="607" width="2.0" height="4.300000000000001" fill="#000"/>
<rect x="496.96" y="607" width="2.0" height="4.300000000000001" fill="#000"/>
<rect x="501.94" y="607" width="2.0" height="4.300000000000001" fill="#000"/>
<rect x="506.93" y="607" width="2.0" height="7.6" fill="#000"/>
<text x="507.9" y="628.6" text-anchor="middle" class="tk">3</text>
<rect x="511.92" y="607" width="2.0" height="4.300000000000001" fill="#000"/>
<rect x="516.90" y="607" width="2.0" height="4.300000000000001" fill="#000"/>
<rect x="521.89" y="607" width="2.0" height="4.300000000000001" fill="#000"/>
<rect x="526.87" y="607" width="2.0" height="4.300000000000001" fill="#000"/>
<rect x="531.86" y="607" width="2.0" height="7.6" fill="#000"/>
<text x="532.9" y="628.6" text-anchor="middle" class="tk">6</text>
<rect x="536.85" y="607" width="2.0" height="4.300000000000001" fill="#000"/>
<rect x="541.83" y="607" width="2.0" height="4.300000000000001" fill="#000"/>
<text x="187.8" y="650.2" text-anchor="middle" class="ax">log<tspan font-size="10.6px" dy="3">2</tspan><tspan dy="-3"> fold change</tspan></text>
<text x="485.5" y="650.2" text-anchor="middle" class="ax">log<tspan font-size="10.6px" dy="3">2</tspan><tspan dy="-3"> fold change</tspan></text>
<text transform="translate(24,400) rotate(-90)" text-anchor="middle" class="ax" letter-spacing="0.45">DEGs</text>
<text transform="translate(344.6,400) rotate(-90)" text-anchor="middle" class="ax" letter-spacing="0.45">DEGs</text>
<text transform="translate(74.38,148.0) scale(1,1.12)" text-anchor="end" class="cap" stroke="#111" stroke-width="0.2">(</text><text x="77.6" y="147.5" text-anchor="middle" class="cap" style="font-weight:bold;font-size:12.3px">a</text><text transform="translate(80.82,148.0) scale(1,1.12)" class="cap" stroke="#111" stroke-width="0.2">)</text>
<text transform="translate(254.73,148.0) scale(1,1.12)" text-anchor="end" class="cap" stroke="#111" stroke-width="0.2">(</text><text x="258.3" y="147.5" text-anchor="middle" class="cap" style="font-weight:bold;font-size:12.3px">b</text><text transform="translate(261.87,148.0) scale(1,1.12)" class="cap" stroke="#111" stroke-width="0.2">)</text>
<text transform="translate(138.82,683.5) scale(1,1.12)" text-anchor="end" class="cap" stroke="#111" stroke-width="0.2">(</text><text x="141.7" y="683" text-anchor="middle" class="cap" style="font-weight:bold;font-size:12.3px">c</text><text transform="translate(144.58,683.5) scale(1,1.12)" class="cap" stroke="#111" stroke-width="0.2">)</text>
<text transform="translate(447.13,683.5) scale(1,1.12)" text-anchor="end" class="cap" stroke="#111" stroke-width="0.2">(</text><text x="450.7" y="683" text-anchor="middle" class="cap" style="font-weight:bold;font-size:12.3px">d</text><text transform="translate(454.27,683.5) scale(1,1.12)" class="cap" stroke="#111" stroke-width="0.2">)</text>
</svg>
</body></html>
